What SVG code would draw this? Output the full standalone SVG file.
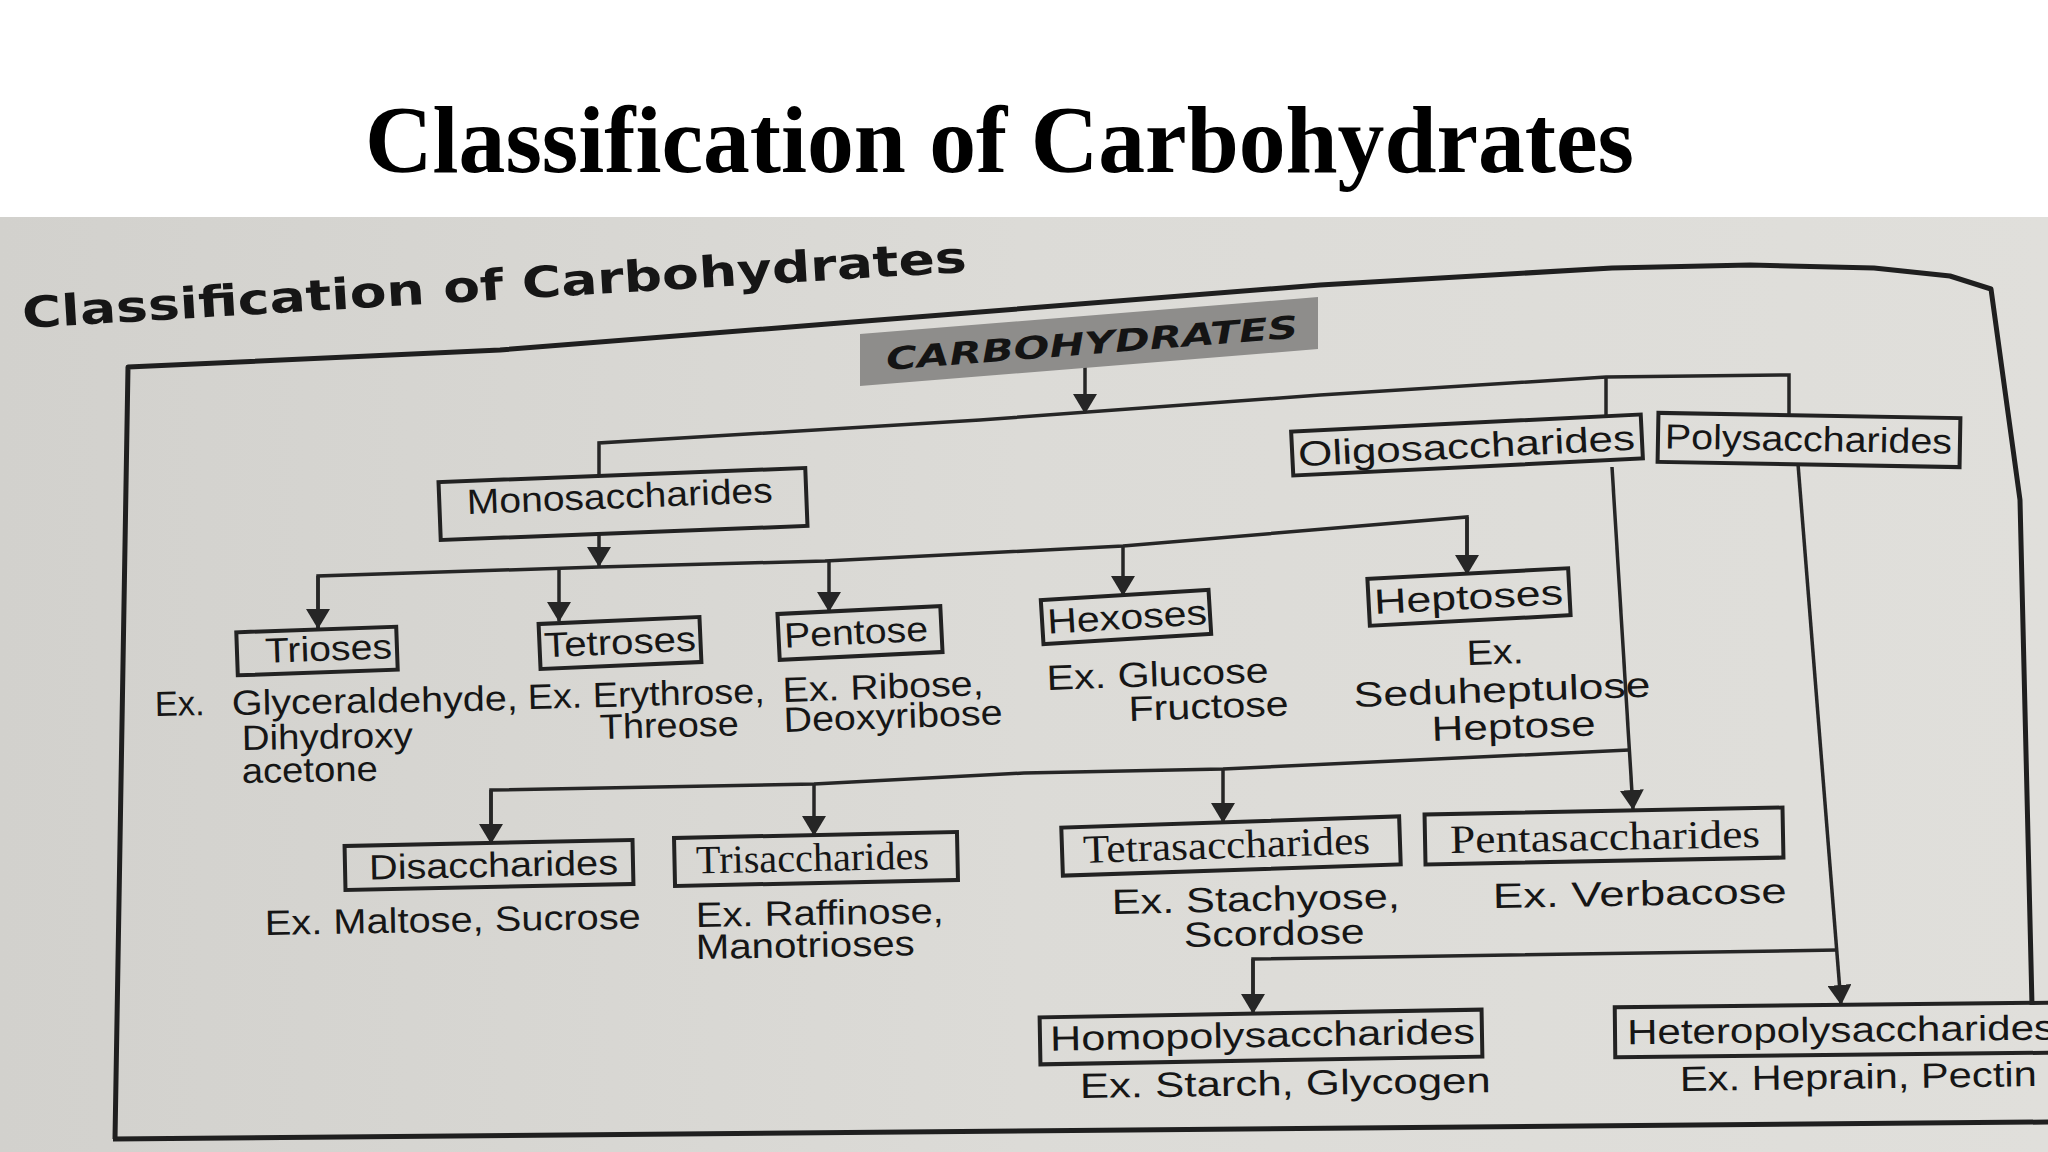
<svg xmlns="http://www.w3.org/2000/svg" width="2048" height="1152" viewBox="0 0 2048 1152">
<defs>
<linearGradient id="paper" x1="0" y1="0" x2="1" y2="0">
<stop offset="0" stop-color="#d2d1cd"/>
<stop offset="0.5" stop-color="#dcdbd7"/>
<stop offset="1" stop-color="#e0dfdb"/>
</linearGradient>
<marker id="ah" markerUnits="userSpaceOnUse" markerWidth="20" markerHeight="24" viewBox="0 0 20 24" refX="19" refY="12" orient="auto">
<path d="M0,0 L20,12 L0,24 z" fill="#262626"/>
</marker>
<style>
.frame{fill:none;stroke:#1f1f1f;stroke-width:5;stroke-linejoin:round}
.con{fill:none;stroke:#262626;stroke-width:3.5;stroke-linejoin:miter}
.arr{marker-end:url(#ah)}
.box{fill:none;stroke:#222;stroke-width:4}
.sans{font-family:"Liberation Sans",Arial,sans-serif;font-size:35px;fill:#161616}
.serif{font-family:"Liberation Serif","Times New Roman",serif;font-size:40px;fill:#161616}
</style>
</defs>
<rect x="0" y="0" width="2048" height="217" fill="#ffffff"/>
<rect x="0" y="217" width="2048" height="935" fill="url(#paper)"/>

<g id="title">
<text x="365" y="172" font-family="Liberation Serif,'Times New Roman',serif" font-weight="bold" font-size="96" fill="#000" textLength="1269" lengthAdjust="spacingAndGlyphs">Classification of Carbohydrates</text>
</g>

<g id="subtitle">
<text x="23" y="328" transform="rotate(-3.4 23 328)" font-family="'DejaVu Sans',Verdana,sans-serif" font-weight="bold" font-size="43" fill="#161616" textLength="946" lengthAdjust="spacingAndGlyphs">Classification of Carbohydrates</text>
</g>

<g id="frame">
<path class="frame" d="M115 1139 L128 367 L500 350 L840 323 L1320 285 L1612 268 L1750 265 L1874 268 L1950 276 L1991 289 L2020 500 L2032 1005"/>
<path class="frame" d="M113 1139 L2048 1122"/>
</g>

<g id="connectors">
<path class="con arr" d="M1085 352 L1085 413"/>
<path class="con" d="M599 477 L599 443 L980 420 L1320 395 L1606 377 L1789 375 L1789 415"/>
<path class="con" d="M1606 377 L1606 418"/>
<path class="con arr" d="M599 534 L599 566"/>
<path class="con" d="M318 628 L318 576 L599 567 L825 561 L1123 546 L1467 517 L1467 573"/>
<path class="con arr" d="M318 576 L318 628"/>
<path class="con arr" d="M559 569 L559 621"/>
<path class="con arr" d="M829 560 L829 611"/>
<path class="con arr" d="M1123 546 L1123 595"/>
<path class="con arr" d="M1467 517 L1467 574"/>
<path class="con arr" d="M1612 467 L1633 809"/>
<path class="con" d="M491 842 L491 790 L814 784 L1024 773 L1223 769 L1629 750"/>
<path class="con arr" d="M491 790 L491 843"/>
<path class="con arr" d="M814 784 L814 835"/>
<path class="con arr" d="M1223 769 L1223 822"/>
<path class="con arr" d="M1798 464 L1841 1004"/>
<path class="con" d="M1837 950 L1253 959 L1253 1000"/>
<path class="con arr" d="M1253 959 L1253 1013"/>
</g>

<g id="n-carbohydrates">
<polygon points="860,334 1318,297 1318,349 860,386" fill="#8e8d8b"/>
<text x="887" y="370" transform="rotate(-4.5 887 370)" font-family="'DejaVu Sans',Arial,sans-serif" font-weight="bold" font-style="italic" font-size="31" fill="#141414" textLength="413" lengthAdjust="spacingAndGlyphs">CARBOHYDRATES</text>
</g>

<g id="n-mono" transform="rotate(-2.2 623 504)">
<rect class="box" x="439.5" y="475" width="367" height="58"/>
<text class="sans" x="467" y="508" textLength="306" lengthAdjust="spacingAndGlyphs">Monosaccharides</text>
</g>

<g id="n-oligo" transform="rotate(-2.8 1467 445)">
<rect class="box" x="1292" y="423" width="350" height="44"/>
<text class="sans" x="1298" y="458" textLength="337" lengthAdjust="spacingAndGlyphs">Oligosaccharides</text>
</g>

<g id="n-poly" transform="rotate(1 1809 440)">
<rect class="box" x="1658" y="415.5" width="302" height="49"/>
<text class="sans" x="1665" y="451" textLength="287" lengthAdjust="spacingAndGlyphs">Polysaccharides</text>
</g>

<g id="n-trioses">
<g transform="rotate(-2 317 651)">
<rect class="box" x="237" y="629.5" width="160" height="43"/>
<text class="sans" x="265" y="661" textLength="127" lengthAdjust="spacingAndGlyphs">Trioses</text>
</g>
<text class="sans" x="155" y="716" transform="rotate(-1 155 716)" textLength="50" lengthAdjust="spacingAndGlyphs">Ex.</text>
<text class="sans" x="232" y="715" transform="rotate(-1 232 715)" textLength="286" lengthAdjust="spacingAndGlyphs">Glyceraldehyde,</text>
<text class="sans" x="242" y="750" transform="rotate(-1 242 750)" textLength="171" lengthAdjust="spacingAndGlyphs">Dihydroxy</text>
<text class="sans" x="242" y="783" transform="rotate(-1 242 783)" textLength="136" lengthAdjust="spacingAndGlyphs">acetone</text>
</g>

<g id="n-tetroses">
<g transform="rotate(-2.5 620 643)">
<rect class="box" x="539.5" y="620.5" width="161" height="45"/>
<text class="sans" x="544" y="654" textLength="152" lengthAdjust="spacingAndGlyphs">Tetroses</text>
</g>
<text class="sans" x="528" y="709" transform="rotate(-1.5 528 709)" textLength="237" lengthAdjust="spacingAndGlyphs">Ex. Erythrose,</text>
<text class="sans" x="600" y="739" transform="rotate(-1.5 600 739)" textLength="139" lengthAdjust="spacingAndGlyphs">Threose</text>
</g>

<g id="n-pentose">
<g transform="rotate(-2.8 860 633)">
<rect class="box" x="778.5" y="610" width="163" height="46"/>
<text class="sans" x="784" y="644" textLength="144" lengthAdjust="spacingAndGlyphs">Pentose</text>
</g>
<text class="sans" x="783" y="702" transform="rotate(-2 783 702)" textLength="201" lengthAdjust="spacingAndGlyphs">Ex. Ribose,</text>
<text class="sans" x="784" y="732" transform="rotate(-2 784 732)" textLength="219" lengthAdjust="spacingAndGlyphs">Deoxyribose</text>
</g>

<g id="n-hexoses">
<g transform="rotate(-3.5 1126 617)">
<rect class="box" x="1042" y="595" width="168" height="44"/>
<text class="sans" x="1047" y="629" textLength="160" lengthAdjust="spacingAndGlyphs">Hexoses</text>
</g>
<text class="sans" x="1047" y="690" transform="rotate(-2 1047 690)" textLength="222" lengthAdjust="spacingAndGlyphs">Ex. Glucose</text>
<text class="sans" x="1129" y="721" transform="rotate(-2 1129 721)" textLength="160" lengthAdjust="spacingAndGlyphs">Fructose</text>
</g>

<g id="n-heptoses">
<g transform="rotate(-3 1469 597)">
<rect class="box" x="1368.5" y="573.5" width="201" height="47"/>
<text class="sans" x="1374" y="609" textLength="189" lengthAdjust="spacingAndGlyphs">Heptoses</text>
</g>
<text class="sans" x="1467" y="665" transform="rotate(-2 1467 665)" textLength="57" lengthAdjust="spacingAndGlyphs">Ex.</text>
<text class="sans" x="1354" y="707" transform="rotate(-2 1354 707)" textLength="297" lengthAdjust="spacingAndGlyphs">Seduheptulose</text>
<text class="sans" x="1432" y="741" transform="rotate(-2 1432 741)" textLength="164" lengthAdjust="spacingAndGlyphs">Heptose</text>
</g>

<g id="n-di">
<g transform="rotate(-1.2 489 865)">
<rect class="box" x="345" y="843" width="288" height="44"/>
<text class="sans" x="369" y="877" textLength="249" lengthAdjust="spacingAndGlyphs">Disaccharides</text>
</g>
<text class="sans" x="265" y="935" transform="rotate(-1 265 935)" textLength="376" lengthAdjust="spacingAndGlyphs">Ex. Maltose, Sucrose</text>
</g>

<g id="n-tri">
<g transform="rotate(-1.2 816 859)">
<rect class="box" x="674.5" y="835" width="283" height="48"/>
<text class="serif" x="696" y="871" textLength="233" lengthAdjust="spacingAndGlyphs">Trisaccharides</text>
</g>
<text class="sans" x="696" y="927" transform="rotate(-1 696 927)" textLength="248" lengthAdjust="spacingAndGlyphs">Ex. Raffinose,</text>
<text class="sans" x="696" y="959" transform="rotate(-1 696 959)" textLength="219" lengthAdjust="spacingAndGlyphs">Manotrioses</text>
</g>

<g id="n-tetra">
<g transform="rotate(-1.9 1231 846)">
<rect class="box" x="1062" y="822" width="338" height="48"/>
<text class="serif" x="1083" y="858" textLength="287" lengthAdjust="spacingAndGlyphs">Tetrasaccharides</text>
</g>
<text class="sans" x="1112" y="914" transform="rotate(-1.2 1112 914)" textLength="288" lengthAdjust="spacingAndGlyphs">Ex. Stachyose,</text>
<text class="sans" x="1184" y="947" transform="rotate(-1.2 1184 947)" textLength="181" lengthAdjust="spacingAndGlyphs">Scordose</text>
</g>

<g id="n-penta">
<g transform="rotate(-1.1 1604 836)">
<rect class="box" x="1425" y="811" width="358" height="50"/>
<text class="serif" x="1450" y="850" textLength="310" lengthAdjust="spacingAndGlyphs">Pentasaccharides</text>
</g>
<text class="sans" x="1493" y="908" transform="rotate(-1 1493 908)" textLength="294" lengthAdjust="spacingAndGlyphs">Ex. Verbacose</text>
</g>

<g id="n-homo">
<g transform="rotate(-1 1261 1037)">
<rect class="box" x="1040" y="1013.5" width="442" height="47"/>
<text class="sans" x="1050" y="1047" textLength="425" lengthAdjust="spacingAndGlyphs">Homopolysaccharides</text>
</g>
<text class="sans" x="1080" y="1098" transform="rotate(-0.8 1080 1098)" textLength="411" lengthAdjust="spacingAndGlyphs">Ex. Starch, Glycogen</text>
</g>

<g id="n-hetero">
<g transform="rotate(-0.6 1830 1030)">
<rect class="box" x="1615" y="1005" width="460" height="50"/>
<text class="sans" x="1627" y="1042" textLength="428" lengthAdjust="spacingAndGlyphs">Heteropolysaccharides</text>
</g>
<text class="sans" x="1680" y="1091" transform="rotate(-0.8 1680 1091)" textLength="357" lengthAdjust="spacingAndGlyphs">Ex. Heprain, Pectin</text>
</g>
</svg>
